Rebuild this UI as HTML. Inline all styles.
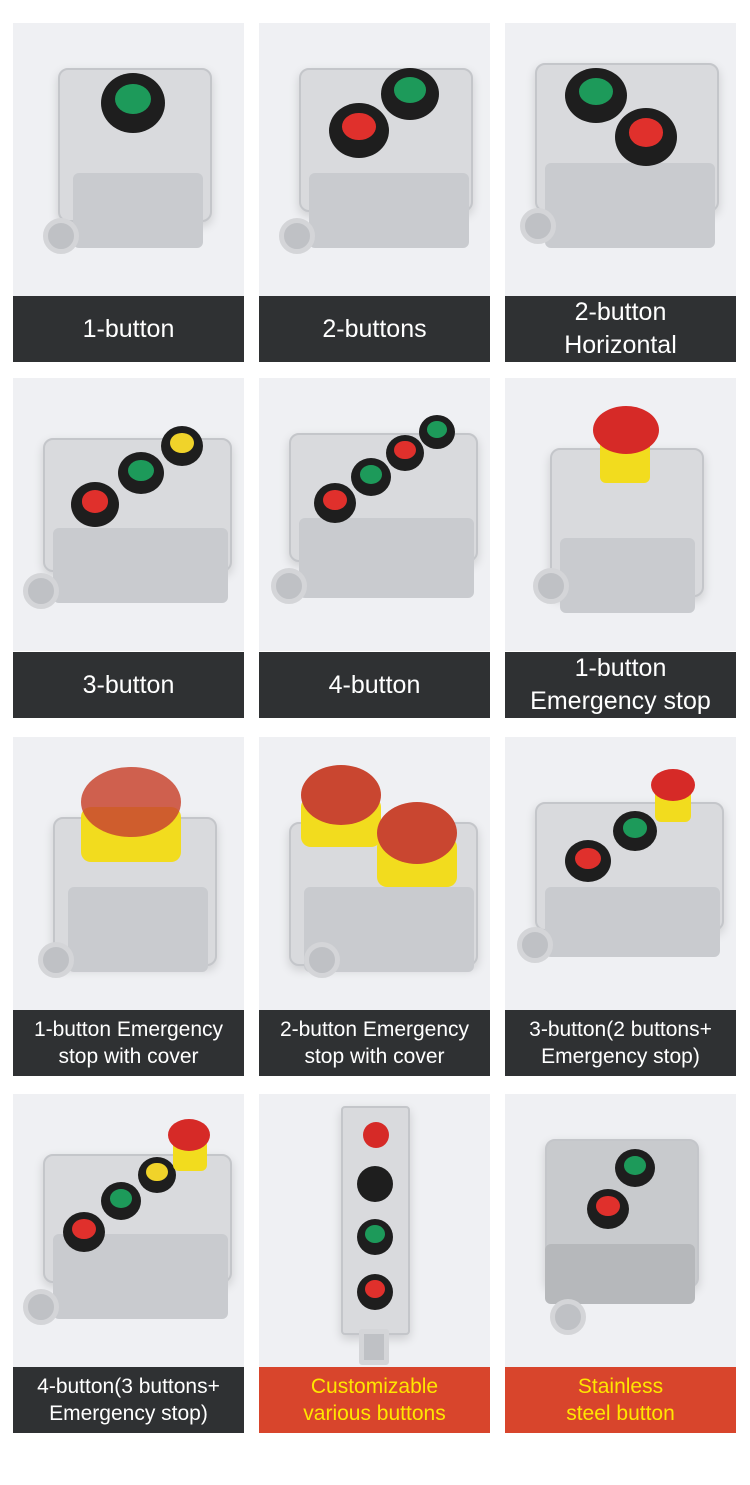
<!DOCTYPE html>
<html><head><meta charset="utf-8"><style>
body{margin:0;width:750px;height:1485px;background:#fff;position:relative;overflow:hidden;font-family:"Liberation Sans",Arial,sans-serif}
.img{position:absolute;width:231px;height:273px;background:#eff0f3;overflow:hidden}
.lab{position:absolute;width:231px;height:66px;background:#2f3133;color:#fff;display:flex;align-items:center;justify-content:center;text-align:center;font-size:25px;line-height:33px}
.lab.s{font-size:21px;line-height:27px}
.lab.r{background:#d8452c;color:#ffe600;font-size:21px;line-height:27px}
.box{position:absolute;background:#d9dadd;border:2px solid #c4c6ca;border-radius:10px;box-shadow:0 4px 10px rgba(0,0,0,.15)}
.side{position:absolute;background:#c9cbcf;border-radius:6px}
.b{position:absolute;border-radius:50%;background:#1e1e1e}
.b i{position:absolute;left:22%;top:18%;width:56%;height:50%;border-radius:50%}
.g{background:#1d9a5a}.rd{background:#e0302c}.y{background:#f0d32a}
.glnd{position:absolute;width:26px;height:26px;border-radius:50%;background:#bfc1c5;border:5px solid #d4d5d8}
.em{position:absolute;border-radius:50%;background:#d62a27}
.yl{position:absolute;background:#f2dc1e;border-radius:6px}
</style></head><body>

<!-- Row 1 -->
<div class="img" style="left:13px;top:23px">
<div class="box" style="left:45px;top:45px;width:150px;height:150px"></div>
<div class="side" style="left:60px;top:150px;width:130px;height:75px"></div>
<div class="glnd" style="left:30px;top:195px"></div>
<div class="b" style="left:88px;top:50px;width:64px;height:60px"><i class="g"></i></div>
</div>
<div class="lab" style="left:13px;top:296px">1-button</div>

<div class="img" style="left:259px;top:23px">
<div class="box" style="left:40px;top:45px;width:170px;height:140px"></div>
<div class="side" style="left:50px;top:150px;width:160px;height:75px"></div>
<div class="glnd" style="left:20px;top:195px"></div>
<div class="b" style="left:70px;top:80px;width:60px;height:55px"><i class="rd"></i></div>
<div class="b" style="left:122px;top:45px;width:58px;height:52px"><i class="g"></i></div>
</div>
<div class="lab" style="left:259px;top:296px">2-buttons</div>

<div class="img" style="left:505px;top:23px">
<div class="box" style="left:30px;top:40px;width:180px;height:145px"></div>
<div class="side" style="left:40px;top:140px;width:170px;height:85px"></div>
<div class="glnd" style="left:15px;top:185px"></div>
<div class="b" style="left:60px;top:45px;width:62px;height:55px"><i class="g"></i></div>
<div class="b" style="left:110px;top:85px;width:62px;height:58px"><i class="rd"></i></div>
</div>
<div class="lab" style="left:505px;top:296px">2-button<br>Horizontal</div>

<!-- Row 2 -->
<div class="img" style="left:13px;top:378px">
<div class="box" style="left:30px;top:60px;width:185px;height:130px"></div>
<div class="side" style="left:40px;top:150px;width:175px;height:75px"></div>
<div class="glnd" style="left:10px;top:195px"></div>
<div class="b" style="left:58px;top:104px;width:48px;height:45px"><i class="rd"></i></div>
<div class="b" style="left:105px;top:74px;width:46px;height:42px"><i class="g"></i></div>
<div class="b" style="left:148px;top:48px;width:42px;height:40px"><i class="y"></i></div>
</div>
<div class="lab" style="left:13px;top:652px">3-button</div>

<div class="img" style="left:259px;top:378px">
<div class="box" style="left:30px;top:55px;width:185px;height:125px"></div>
<div class="side" style="left:40px;top:140px;width:175px;height:80px"></div>
<div class="glnd" style="left:12px;top:190px"></div>
<div class="b" style="left:55px;top:105px;width:42px;height:40px"><i class="rd"></i></div>
<div class="b" style="left:92px;top:80px;width:40px;height:38px"><i class="g"></i></div>
<div class="b" style="left:127px;top:57px;width:38px;height:36px"><i class="rd"></i></div>
<div class="b" style="left:160px;top:37px;width:36px;height:34px"><i class="g"></i></div>
</div>
<div class="lab" style="left:259px;top:652px">4-button</div>

<div class="img" style="left:505px;top:378px">
<div class="box" style="left:45px;top:70px;width:150px;height:145px"></div>
<div class="side" style="left:55px;top:160px;width:135px;height:75px"></div>
<div class="glnd" style="left:28px;top:190px"></div>
<div class="yl" style="left:95px;top:60px;width:50px;height:45px"></div>
<div class="em" style="left:88px;top:28px;width:66px;height:48px"></div>
</div>
<div class="lab" style="left:505px;top:652px">1-button<br>Emergency stop</div>

<!-- Row 3 -->
<div class="img" style="left:13px;top:737px">
<div class="box" style="left:40px;top:80px;width:160px;height:145px"></div>
<div class="side" style="left:55px;top:150px;width:140px;height:85px"></div>
<div class="glnd" style="left:25px;top:205px"></div>
<div class="yl" style="left:68px;top:70px;width:100px;height:55px;border-radius:10px"></div>
<div class="em" style="left:68px;top:30px;width:100px;height:70px;background:#c94630;opacity:.85"></div>
</div>
<div class="lab s" style="left:13px;top:1010px">1-button Emergency<br>stop with cover</div>

<div class="img" style="left:259px;top:737px">
<div class="box" style="left:30px;top:85px;width:185px;height:140px"></div>
<div class="side" style="left:45px;top:150px;width:170px;height:85px"></div>
<div class="glnd" style="left:45px;top:205px"></div>
<div class="yl" style="left:42px;top:60px;width:80px;height:50px;border-radius:10px"></div>
<div class="em" style="left:42px;top:28px;width:80px;height:60px;background:#c94630"></div>
<div class="yl" style="left:118px;top:100px;width:80px;height:50px;border-radius:10px"></div>
<div class="em" style="left:118px;top:65px;width:80px;height:62px;background:#c94630"></div>
</div>
<div class="lab s" style="left:259px;top:1010px">2-button Emergency<br>stop with cover</div>

<div class="img" style="left:505px;top:737px">
<div class="box" style="left:30px;top:65px;width:185px;height:125px"></div>
<div class="side" style="left:40px;top:150px;width:175px;height:70px"></div>
<div class="glnd" style="left:12px;top:190px"></div>
<div class="b" style="left:60px;top:103px;width:46px;height:42px"><i class="rd"></i></div>
<div class="b" style="left:108px;top:74px;width:44px;height:40px"><i class="g"></i></div>
<div class="yl" style="left:150px;top:50px;width:36px;height:35px"></div>
<div class="em" style="left:146px;top:32px;width:44px;height:32px"></div>
</div>
<div class="lab s" style="left:505px;top:1010px">3-button(2 buttons+<br>Emergency stop)</div>

<!-- Row 4 -->
<div class="img" style="left:13px;top:1094px">
<div class="box" style="left:30px;top:60px;width:185px;height:125px"></div>
<div class="side" style="left:40px;top:140px;width:175px;height:85px"></div>
<div class="glnd" style="left:10px;top:195px"></div>
<div class="b" style="left:50px;top:118px;width:42px;height:40px"><i class="rd"></i></div>
<div class="b" style="left:88px;top:88px;width:40px;height:38px"><i class="g"></i></div>
<div class="b" style="left:125px;top:63px;width:38px;height:36px"><i class="y"></i></div>
<div class="yl" style="left:160px;top:45px;width:34px;height:32px"></div>
<div class="em" style="left:155px;top:25px;width:42px;height:32px"></div>
</div>
<div class="lab s" style="left:13px;top:1367px">4-button(3 buttons+<br>Emergency stop)</div>

<div class="img" style="left:259px;top:1094px">
<div class="box" style="left:82px;top:12px;width:65px;height:225px;border-radius:4px"></div>
<div class="glnd" style="left:100px;top:235px;width:20px;border-radius:3px"></div>
<div class="em" style="left:104px;top:28px;width:26px;height:26px"></div>
<div class="b" style="left:98px;top:72px;width:36px;height:36px"></div>
<div class="b" style="left:98px;top:125px;width:36px;height:36px"><i class="g"></i></div>
<div class="b" style="left:98px;top:180px;width:36px;height:36px"><i class="rd"></i></div>
</div>
<div class="lab r" style="left:259px;top:1367px">Customizable<br>various buttons</div>

<div class="img" style="left:505px;top:1094px">
<div class="box" style="left:40px;top:45px;width:150px;height:145px;background:#c8cacd"></div>
<div class="side" style="left:40px;top:150px;width:150px;height:60px;background:#b6b8bb"></div>
<div class="glnd" style="left:45px;top:205px"></div>
<div class="b" style="left:110px;top:55px;width:40px;height:38px"><i class="g"></i></div>
<div class="b" style="left:82px;top:95px;width:42px;height:40px"><i class="rd"></i></div>
</div>
<div class="lab r" style="left:505px;top:1367px">Stainless<br>steel button</div>

</body></html>
